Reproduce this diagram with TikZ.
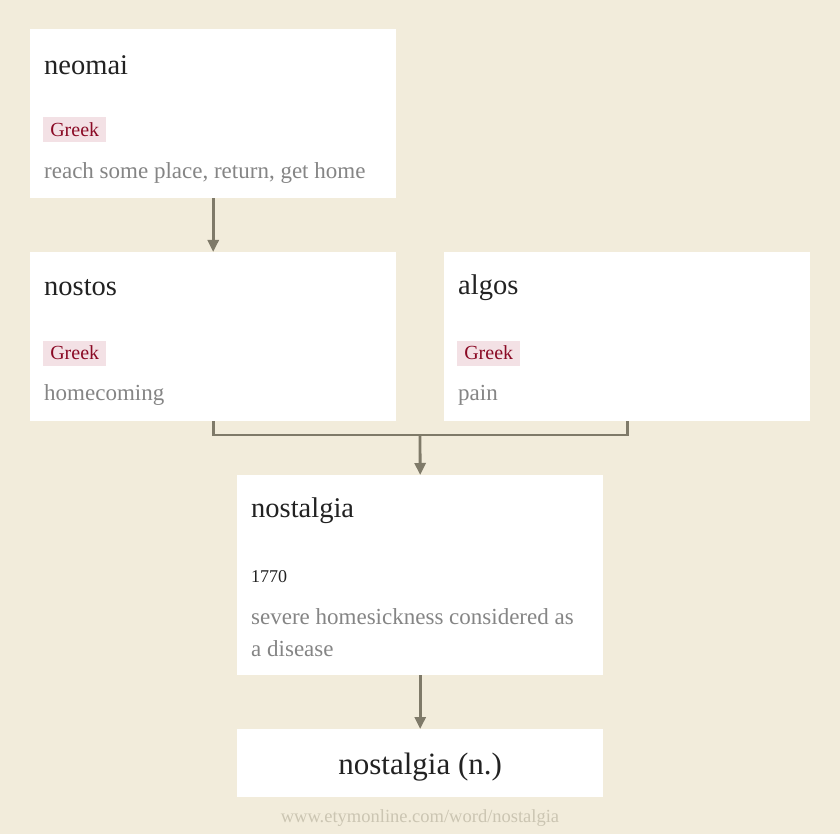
\documentclass[tikz,border=0pt]{standalone}
\usepackage{fontspec}
\setmainfont{Liberation Serif}
\usetikzlibrary{arrows.meta,positioning}
\definecolor{pagebg}{HTML}{F2ECDB}
\definecolor{titlecol}{HTML}{222222}
\definecolor{tagbg}{HTML}{F3E1E5}
\definecolor{tagtext}{HTML}{8A0A25}
\definecolor{glosscol}{HTML}{858585}
\definecolor{linkcol}{HTML}{7F7A69}
\definecolor{footcol}{HTML}{CBC5B2}
\tikzset{
    wordbox/.style={fill=white,draw=none,anchor=north west,inner sep=0pt,
        minimum width=366pt,minimum height=169pt},
    wordtitle/.style={anchor=west,inner sep=0pt,text=titlecol,
        font=\fontsize{28.5}{32}\selectfont},
    langtag/.style={anchor=west,fill=tagbg,text=tagtext,inner sep=0pt,
        minimum width=63pt,minimum height=25pt,font=\fontsize{20}{22}\selectfont},
    gloss/.style={anchor=west,inner sep=0pt,text=glosscol,align=left,
        font=\fontsize{23}{32}\selectfont},
    link/.style={draw=linkcol,line width=2.8pt},
    linkarrow/.style={link,-{Triangle[width=11pt,length=12pt]}}
}
\begin{document}
\begin{tikzpicture}[x=1pt,y=-1pt]
    \fill[pagebg] (0,0) rectangle (840,834);
    % boxes
    \node[wordbox] (neomai) at (30,29) {};
    \node[wordbox] (nostos) at (30,252) {};
    \node[wordbox] (algos) at (444,252) {};
    \node[wordbox,minimum height=200pt] (nostalgia) at (237,475) {};
    \node[wordbox,minimum height=68pt] (modern) at (237,729) {};
    % neomai
    \node[wordtitle] (neomai-t) at (44,65) {neomai};
    \node[langtag] (neomai-l) at (43,130) {Greek};
    \node[gloss] (neomai-g) at (44,173) {reach some place, return, get home};
    % nostos
    \node[wordtitle] (nostos-t) at (44,288) {nostos};
    \node[langtag] (nostos-l) at (43,353) {Greek};
    \node[gloss] (nostos-g) at (44,395) {homecoming};
    % algos
    \node[wordtitle] (algos-t) at (458,288) {algos};
    \node[langtag] (algos-l) at (457,353) {Greek};
    \node[gloss] (algos-g) at (458,395) {pain};
    % nostalgia
    \node[wordtitle] (nostalgia-t) at (251,511) {nostalgia};
    \node[anchor=west,inner sep=0pt,text=titlecol,font=\fontsize{18}{20}\selectfont]
        (nostalgia-d) at (251,577) {1770};
    \node[gloss,anchor=north west] (nostalgia-g) at (251,608)
        {severe homesickness considered as\\a disease};
    % result
    \node[inner sep=0pt,text=titlecol,font=\fontsize{31}{34}\selectfont]
        (modern-t) at ([yshift=-4pt]modern.center) {nostalgia (n.)};
    \node[inner sep=0pt,text=footcol,font=\fontsize{18.5}{20}\selectfont]
        (footer) at (420,818) {www.etymonline.com/word/nostalgia};
    % links
    \coordinate (join) at (420,435);
    \draw[linkarrow] (neomai.south -| nostos.south) -- (nostos.north);
    \draw[link] (nostos.south) |- (join) -| (algos.south);
    \draw[linkarrow] (join) -- (nostalgia.north);
    \draw[linkarrow] (nostalgia.south) -- (modern.north);
\end{tikzpicture}
\end{document}
